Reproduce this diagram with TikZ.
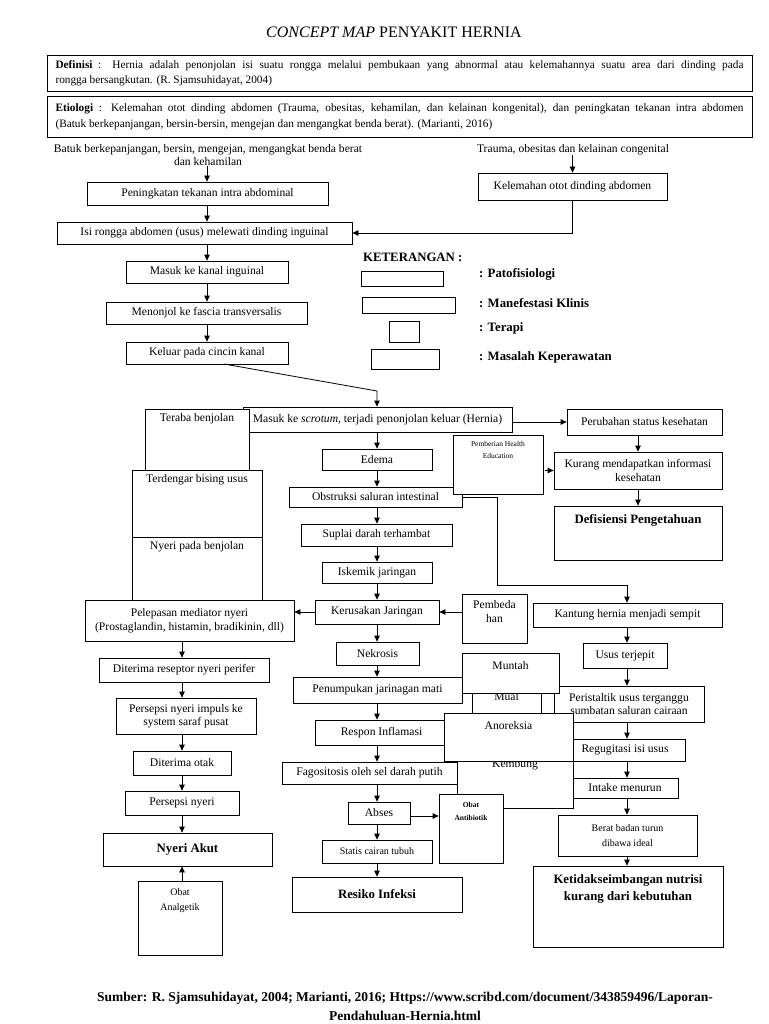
\documentclass[tikz,border=0pt]{standalone}
\usepackage{fontspec}
\setmainfont{Liberation Serif}
\usetikzlibrary{arrows.meta}
\newcommand\fs{\fontsize{11.6}{13.5}\selectfont}
\newcommand\fsb{\fontsize{12.8}{17}\selectfont\bfseries}
\newcommand\fsm{\fontsize{10}{15}\selectfont}
\newcommand\fst{\fontsize{7.5}{12}\selectfont}
\newcommand\fsa{\fontsize{7.5}{13}\selectfont\bfseries}
\tikzset{
  box/.style={draw, fill=white, line width=0.8pt, inner sep=1pt, align=center, font=\fs},
  tl/.style={anchor=north, inner sep=0pt, align=center, font=\fs, yshift=-5pt},
  arr/.style={line width=0.8pt, -{Triangle[length=6pt,width=5.5pt]}},
  ln/.style={line width=0.8pt},
  txt/.style={inner sep=0pt, align=center, font=\fs},
}
\newcommand\bx[7][]{\node[box,minimum width={(#5-#3)*1pt},minimum height={(#6-#4)*1pt},#1] (#2) at ({(#3+#5)/2},{(#4+#6)/2}) {#7};}
\begin{document}
\begin{tikzpicture}[x=1pt,y=-1pt]
\fill[white] (0,0) rectangle (768,1024);
\useasboundingbox (0,0) rectangle (768,1024);
% columns
\coordinate (colT) at (207,0);
\coordinate (colM) at (377,0);
\coordinate (colL) at (182,0);
\coordinate (colR) at (627,0);
\coordinate (colP) at (638,0);
% title
\node[txt,font=\fontsize{16}{18}\selectfont] (title) at (394,32) {\textit{CONCEPT MAP} PENYAKIT HERNIA};
\bx{def}{47}{55}{752}{91}{\parbox{688pt}{\fontsize{11.3}{15}\selectfont\textbf{Definisi}\enspace: Hernia adalah penonjolan isi suatu rongga melalui pembukaan yang abnormal atau kelemahannya suatu area dari dinding pada\linebreak rongga bersangkutan. (R. Sjamsuhidayat, 2004)}}
\bx{eti}{47}{96}{752}{137}{\parbox{688pt}{\fontsize{11.3}{16}\selectfont\textbf{Etiologi}\enspace: Kelemahan otot dinding abdomen (Trauma, obesitas, kehamilan, dan kelainan kongenital), dan peningkatan tekanan intra abdomen\linebreak (Batuk berkepanjangan, bersin-bersin, mengejan dan mengangkat benda berat). (Marianti, 2016)}}
% top left chain
\node[txt] (batuk) at (208,155) {Batuk berkepanjangan, bersin, mengejan, mengangkat benda berat\\dan kehamilan};
\bx{peningkatan}{87}{182}{328}{205}{Peningkatan tekanan intra abdominal}
\bx{isi}{57}{222}{352}{244}{Isi rongga abdomen (usus) melewati dinding inguinal}
\bx{kanal}{126}{261}{288}{283}{Masuk ke kanal inguinal}
\bx{menonjol}{106}{302}{307}{324}{Menonjol ke fascia transversalis}
\bx{keluar}{126}{342}{288}{364}{Keluar pada cincin kanal}
% top right
\node[txt] (trauma) at (573,150) {Trauma, obesitas dan kelainan congenital};
\bx{kelemahan}{478}{173}{667}{200}{Kelemahan otot dinding abdomen}
% legend
\node[txt,anchor=west,font=\fontsize{12.8}{14}\selectfont\bfseries] (ket) at (363,257) {KETERANGAN~:};
\bx{lg1}{361}{271}{443}{286}{}
\bx{lg2}{362}{297}{455}{313}{}
\bx{lg3}{389}{321}{419}{342}{}
\bx{lg4}{371}{349}{439}{369}{}
\node[txt,anchor=west,font=\fsb] (lt1) at (479,274) {: Patofisiologi};
\node[txt,anchor=west,font=\fsb] (lt2) at (479,303) {: Manefestasi Klinis};
\node[txt,anchor=west,font=\fsb] (lt3) at (479,328) {: Terapi};
\node[txt,anchor=west,font=\fsb] (lt4) at (479,357) {: Masalah Keperawatan};
% hernia
\bx{masuk}{243}{407}{512}{432}{Masuk ke \textit{scrotum,} terjadi penonjolan keluar (Hernia)}
\bx[label={[tl]north:Teraba benjolan}]{teraba}{145}{409}{249}{480}{}
\bx[label={[tl]north:Terdengar bising usus}]{terdengar}{132}{470}{262}{537}{}
\bx[label={[tl]north:Nyeri pada benjolan}]{nyerib}{132}{537}{262}{600}{}
% middle column
\bx{edema}{322}{449}{432}{470}{Edema}
\bx{obstruksi}{289}{487}{462}{507}{Obstruksi saluran intestinal}
\bx[label={[tl,font=\fst,yshift=-1pt]north:{Pemberian Health\\Education}}]{pemberian}{453}{435}{543}{494}{}
\bx{suplai}{301}{524}{452}{546}{Suplai darah terhambat}
\bx{iskemik}{322}{562}{432}{583}{Iskemik jaringan}
\bx{kerusakan}{315}{600}{439}{624}{Kerusakan Jaringan}
\bx{pelepasan}{85}{600}{294}{641}{Pelepasan mediator nyeri\\(Prostaglandin, histamin, bradikinin, dll)}
\bx[label={[tl,yshift=-2pt]north:{Pembeda\\han}}]{pembedahan}{462}{594}{527}{643}{}
% right upper
\bx{perubahan}{567}{409}{722}{435}{Perubahan status kesehatan}
\bx{kurang}{554}{452}{722}{489}{Kurang mendapatkan informasi\\kesehatan}
\bx[label={[tl,font=\fsb,yshift=-4pt]north:Defisiensi Pengetahuan}]{defisiensi}{554}{506}{722}{560}{}
% right lower
\bx{kantung}{533}{603}{722}{627}{Kantung hernia menjadi sempit}
\bx{usus}{583}{643}{667}{668}{Usus terjepit}
\bx{peristaltik}{554}{686}{704}{722}{Peristaltik usus terganggu\\sumbatan saluran cairaan}
\bx{regugitasi}{565}{739}{685}{761}{Regugitasi isi usus}
\bx{intake}{572}{778}{678}{798}{Intake menurun}
% left lower
\bx{reseptor}{99}{658}{269}{682}{Diterima reseptor nyeri perifer}
\bx{impuls}{116}{698}{256}{734}{Persepsi nyeri impuls ke\\system saraf pusat}
\bx{otak}{133}{751}{231}{775}{Diterima otak}
\bx{persepsi}{125}{791}{239}{815}{Persepsi nyeri}
\bx[font=\fsb]{akut}{103}{833}{272}{866}{Nyeri Akut}
\bx[label={[tl,font=\fsm,yshift=-3pt]north:{Obat\\Analgetik}}]{analgetik}{138}{881}{222}{955}{}
% middle lower
\bx{nekrosis}{336}{642}{419}{665}{Nekrosis}
\bx{penumpukan}{293}{677}{462}{703}{Penumpukan jarinagan mati}
\bx{respon}{315}{720}{448}{745}{Respon Inflamasi}
\bx{fagositosis}{282}{762}{457}{784}{Fagositosis oleh sel darah putih}
\bx{abses}{348}{802}{410}{824}{Abses}
\bx[font=\fsm]{statis}{322}{840}{432}{863}{Statis cairan tubuh}
\bx[font=\fsb]{resiko}{292}{877}{462}{912}{Resiko Infeksi}
% overlapping manifestations
\bx{mual}{472}{672}{541}{722}{Mual}
\bx[label={[tl,yshift=-4pt]north:Muntah}]{muntah}{462}{653}{559}{693}{}
\bx{kembung}{457}{721}{573}{808}{Kembung}
\bx[label={[tl,yshift=-4pt]north:Anoreksia}]{anoreksia}{444}{713}{573}{761}{}
\bx[label={[tl,font=\fsa,yshift=-3pt]north:{Obat\\Antibiotik}}]{antibiotik}{439}{794}{503}{863}{}
% nutrition
\bx[font=\fsm]{berat}{558}{815}{697}{856}{Berat badan turun\\dibawa ideal}
\bx[label={[tl,font=\fsb,yshift=-4pt]north:{Ketidakseimbangan nutrisi\\kurang dari kebutuhan}}]{ketidak}{533}{866}{723}{947}{}
% source
\node[txt,font=\fontsize{13.5}{19}\selectfont\bfseries] (sumber) at (405,1006) {Sumber: R. Sjamsuhidayat, 2004; Marianti, 2016; Https://www.scribd.com/document/343859496/Laporan-\\Pendahuluan-Hernia.html};
% connectors
\coordinate (k1) at (224,364);
\coordinate (k2) at (377,391);
\coordinate (c1) at (497,585);
\draw[arr] (batuk.south -| colT) -- (peningkatan.north -| colT);
\draw[arr] (peningkatan.south -| colT) -- (isi.north -| colT);
\draw[arr] (isi.south -| colT) -- (kanal.north -| colT);
\draw[arr] (kanal.south -| colT) -- (menonjol.north -| colT);
\draw[arr] (menonjol.south -| colT) -- (keluar.north -| colT);
\draw[arr] (trauma.south -| kelemahan.north) -- (kelemahan.north);
\draw[arr] (kelemahan.south) |- (isi.east);
\draw[arr] (k1) -- (k2) -- (masuk.north -| k2);
\draw[arr] (masuk.south -| colM) -- (edema.north -| colM);
\draw[arr] (edema.south -| colM) -- (obstruksi.north -| colM);
\draw[arr] (obstruksi.south -| colM) -- (suplai.north -| colM);
\draw[arr] (suplai.south -| colM) -- (iskemik.north -| colM);
\draw[arr] (iskemik.south -| colM) -- (kerusakan.north -| colM);
\draw[arr] (kerusakan.south -| colM) -- (nekrosis.north -| colM);
\draw[arr] (nekrosis.south -| colM) -- (penumpukan.north -| colM);
\draw[arr] (penumpukan.south -| colM) -- (respon.north -| colM);
\draw[arr] (respon.south -| colM) -- (fagositosis.north -| colM);
\draw[arr] (fagositosis.south -| colM) -- (abses.north -| colM);
\draw[arr] (abses.south -| colM) -- (statis.north -| colM);
\draw[arr] (statis.south -| colM) -- (resiko.north -| colM);
\draw[arr] (kerusakan.west) -- (kerusakan.west -| pelepasan.east);
\draw[arr] (kerusakan.east -| pembedahan.west) -- (kerusakan.east);
\draw[arr] (pelepasan.south -| colL) -- (reseptor.north -| colL);
\draw[arr] (reseptor.south -| colL) -- (impuls.north -| colL);
\draw[arr] (impuls.south -| colL) -- (otak.north -| colL);
\draw[arr] (otak.south -| colL) -- (persepsi.north -| colL);
\draw[arr] (persepsi.south -| colL) -- (akut.north -| colL);
\draw[arr] (analgetik.north -| colL) -- (akut.south -| colL);
\draw[arr] (perubahan.west -| masuk.east) -- (perubahan.west);
\draw[arr] (perubahan.south -| colP) -- (kurang.north -| colP);
\draw[arr] (kurang.south -| colP) -- (defisiensi.north -| colP);
\draw[arr] ([xshift=2pt]kurang.west -| pemberian.east) -- (kurang.west);
\draw[arr] (obstruksi.east) -| (c1) -| (kantung.north -| colR);
\draw[arr] (kantung.south -| colR) -- (usus.north -| colR);
\draw[arr] (usus.south -| colR) -- (peristaltik.north -| colR);
\draw[arr] (peristaltik.south -| colR) -- (regugitasi.north -| colR);
\draw[arr] (regugitasi.south -| colR) -- (intake.north -| colR);
\draw[arr] (intake.south -| colR) -- (berat.north -| colR);
\draw[arr] (berat.south -| colR) -- (ketidak.north -| colR);
\draw[arr] ([yshift=-3pt]abses.east) -- ([yshift=-3pt]abses.east -| antibiotik.west);
\end{tikzpicture}
\end{document}
